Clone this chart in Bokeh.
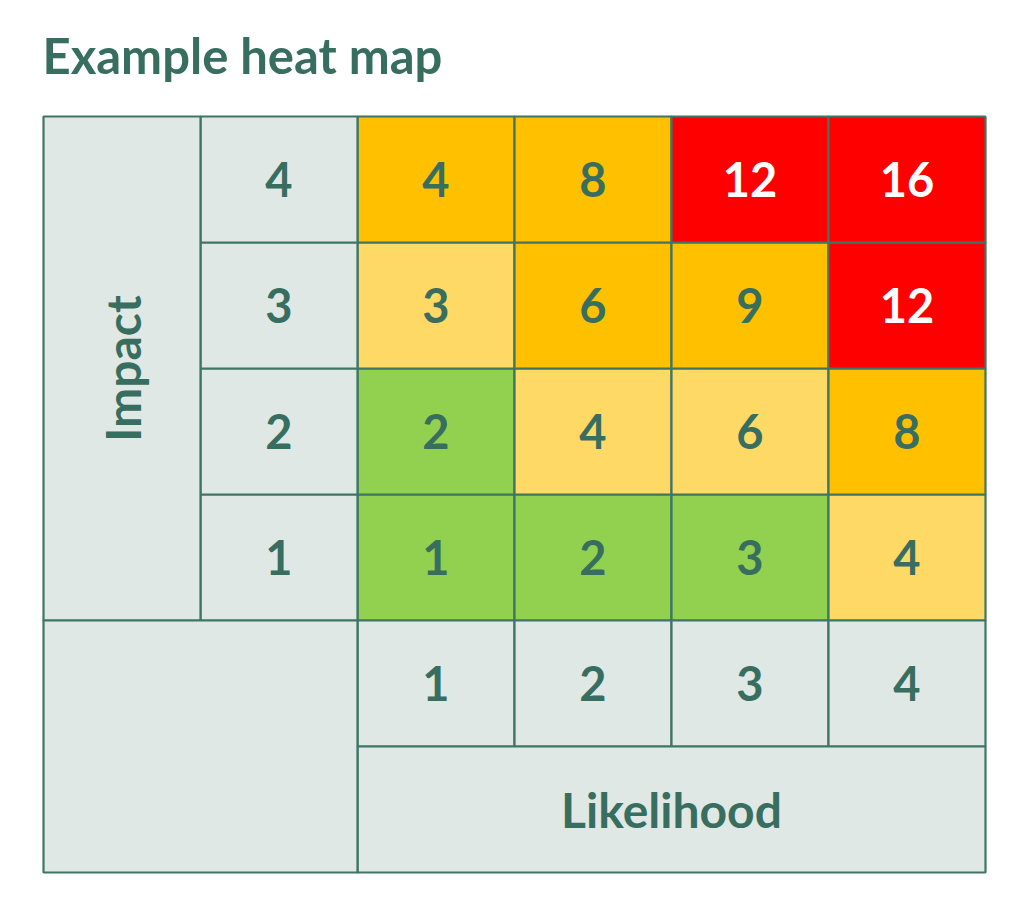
import math
from bokeh.plotting import figure
from bokeh.models import ColumnDataSource, Label, Range1d
from bokeh.core.properties import value
from bokeh.embed import file_html
from bokeh.resources import INLINE

# ---- data ----
title_text = "Example heat map"
x_label = "Likelihood"
y_label = "Impact"
likelihood = [1, 2, 3, 4]
impact = [1, 2, 3, 4]
# risk level of each cell; rows = impact 1..4, columns = likelihood 1..4
levels = [
    ["low", "low", "low", "medium"],          # impact 1
    ["low", "medium", "medium", "high"],      # impact 2
    ["medium", "high", "high", "severe"],     # impact 3
    ["high", "high", "severe", "severe"],     # impact 4
]
level_colors = {"low": "#92d050", "medium": "#ffd966", "high": "#ffc000", "severe": "#ff0000"}
level_text = {"low": "#386e5f", "medium": "#386e5f", "high": "#386e5f", "severe": "#ffffff"}

DARK = "#386e5f"
LINE = "#3f7565"
GREY = "#e0e8e5"
FONT = "Lato"

W, H = 1011, 893
p = figure(width=W, height=H, output_backend="svg", toolbar_location=None,
           x_range=Range1d(-43 / 157, (W - 43) / 157),
           y_range=Range1d(-21 / 126, (H - 21) / 126),
           min_border=0, outline_line_color=None)
p.axis.visible = False
p.grid.visible = False
p.background_fill_color = "white"
p.border_fill_color = "white"

# main matrix
xs, ys, cols, txt, tcol = [], [], [], [], []
for i, imp in enumerate(impact):
    for j, lik in enumerate(likelihood):
        xs.append(lik + 1.5)
        ys.append(imp + 1.5)
        lv = levels[i][j]
        cols.append(level_colors[lv])
        txt.append(str(lik * imp))
        tcol.append(level_text[lv])
src = ColumnDataSource(dict(x=xs, y=ys, c=cols, t=txt, tc=tcol))
p.rect("x", "y", width=1, height=1, source=src, fill_color="c",
       line_color=LINE, line_width=2.2)

# header cells
hx = [1.5] * len(impact) + [l + 1.5 for l in likelihood]
hy = [i + 1.5 for i in impact] + [1.5] * len(likelihood)
ht = [str(i) for i in impact] + [str(l) for l in likelihood]
hsrc = ColumnDataSource(dict(x=hx, y=hy, t=ht))
p.rect("x", "y", width=1, height=1, source=hsrc, fill_color=GREY,
       line_color=LINE, line_width=2.2)

# label cells and blank corner
p.quad(left=[0, 2, 0], right=[1, 6, 2], bottom=[2, 0, 0], top=[6, 1, 2],
       fill_color=GREY, line_color=LINE, line_width=2.2)

# texts
p.text("x", "y", text="t", source=src, text_color="tc",
       text_font=value(FONT), text_font_style="bold", text_font_size="47px",
       text_align="center", text_baseline="middle")
p.text("x", "y", text="t", source=hsrc, text_color=DARK,
       text_font=value(FONT), text_font_style="bold", text_font_size="47px",
       text_align="center", text_baseline="middle")
p.text(x=[4], y=[0.5], text=[x_label], text_color=DARK,
       text_font=value(FONT), text_font_style="bold", text_font_size="48px",
       text_align="center", text_baseline="middle")
p.text(x=[0.5], y=[4], text=[y_label], angle=math.pi / 2, text_color=DARK,
       text_font=value(FONT), text_font_style="bold", text_font_size="48px",
       text_align="center", text_baseline="middle")

p.add_layout(Label(x=42, y=H - 54, x_units="screen", y_units="screen",
                   text=title_text, text_color=DARK, text_font=FONT,
                   text_font_style="bold", text_font_size="49px",
                   text_baseline="alphabetic"))

open("out.html", "w").write(file_html(p, INLINE))
